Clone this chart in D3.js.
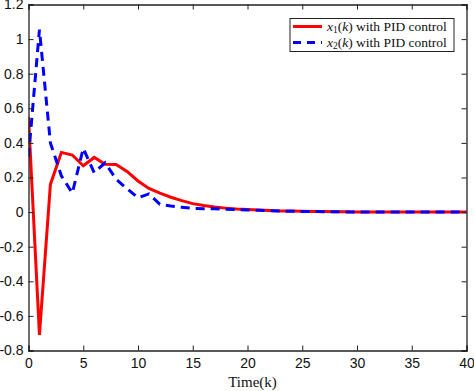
<!DOCTYPE html>
<html><head><meta charset="utf-8">
<script src="https://cdn.jsdelivr.net/npm/d3@7"></script>
<style>body{margin:0;background:#fff}svg{display:block}</style>
</head><body><svg id="c" width="474" height="391"></svg>
<script>
const steps = d3.range(0, 41);
const x1 = [0.55,-0.71,0.16,0.345,0.33,0.268,0.316,0.277,0.275,0.235,0.18,0.137,0.11,0.086,0.066,0.049,0.038,0.029,0.023,0.018,0.015,0.012,0.009,0.007,0.006,0.005,0.004,0.003,0.002,0.002,0.001,0.001,0.001,0,0,0,0,0,0,0,0];
const x2 = [0.32,1.055,0.40,0.21,0.11,0.368,0.228,0.285,0.19,0.135,0.083,0.105,0.045,0.035,0.028,0.022,0.02,0.02,0.017,0.014,0.012,0.01,0.008,0.006,0.005,0.004,0.003,0.002,0.002,0.001,0.001,0.001,0,0,0,0,0,0,0,0,0];
const xTicks = [0,5,10,15,20,25,30,35,40];
const yTicks = [-0.8,-0.6,-0.4,-0.2,0,0.2,0.4,0.6,0.8,1,1.2];
const series = [
  {name:"1", values:x1, color:"#ff0000", dash:null},
  {name:"2", values:x2, color:"#0000ff", dash:"9,6"}
];

const svg = d3.select("#c");
const L=28.5, R=466.5, T=4.5, B=350.5;
const x = d3.scaleLinear().domain([0,40]).range([L,R]);
const y = d3.scaleLinear().domain([-0.8,1.2]).range([B,T]);

const plot = svg.append("g");
plot.append("defs").append("clipPath").attr("id","clip").append("rect")
  .attr("x",L).attr("y",T).attr("width",R-L).attr("height",B-T);

const line = d3.line().x((d,i)=>x(steps[i])).y(d=>y(d));
series.forEach(s=>{
  plot.append("path").attr("d",line(s.values)).attr("fill","none")
    .attr("stroke",s.color).attr("stroke-width",3)
    .attr("stroke-dasharray",s.dash).attr("clip-path","url(#clip)");
});

const axisColor="#222";
const fmt = d=> (d===0?"0":String(d));
const gb = svg.append("g").attr("transform",`translate(0,${B})`)
  .call(d3.axisBottom(x).tickValues(xTicks).tickSize(-5).tickPadding(8).tickFormat(fmt));
const gt = svg.append("g").attr("transform",`translate(0,${T})`)
  .call(d3.axisTop(x).tickValues(xTicks).tickSize(-5).tickFormat(""));
const gl = svg.append("g").attr("transform",`translate(${L},0)`)
  .call(d3.axisLeft(y).tickValues(yTicks).tickSize(-5).tickPadding(5).tickFormat(fmt));
const gr = svg.append("g").attr("transform",`translate(${R},0)`)
  .call(d3.axisRight(y).tickValues(yTicks).tickSize(-5).tickFormat(""));
[gb,gt,gl,gr].forEach(g=>{
  g.select(".domain").attr("stroke",axisColor).attr("stroke-width",1.3);
  g.selectAll(".tick line").attr("stroke",axisColor).attr("stroke-width",1);
  g.selectAll("text").attr("fill","#111").style("font-family","'Liberation Sans',Arial,sans-serif").style("font-size","14px");
});
gb.selectAll(".tick text").attr("dy","0.71em");

svg.append("text").attr("x",(L+R)/2+5).attr("y",387).attr("text-anchor","middle")
  .style("font-family","'Liberation Serif','DejaVu Serif',serif").style("font-size","15px").attr("fill","#111")
  .text("Time(k)");

// legend
const lg = svg.append("g");
lg.append("rect").attr("x",290).attr("y",18.5).attr("width",164).attr("height",33)
  .attr("fill","#fff").attr("stroke","#222").attr("stroke-width",1);
series.forEach((s,i)=>{
  const yy = 26.5 + i*16;
  lg.append("line").attr("x1",293).attr("x2",322).attr("y1",yy).attr("y2",yy)
    .attr("stroke",s.color).attr("stroke-width",3).attr("stroke-dasharray",s.dash?"8,6":null);
  const t = lg.append("text").attr("x",327).attr("y",yy+4)
    .style("font-family","'Liberation Serif','DejaVu Serif',serif").style("font-size","13.5px").attr("fill","#111");
  t.append("tspan").style("font-style","italic").text("x");
  t.append("tspan").attr("dy",2.5).style("font-size","9.5px").text(s.name);
  t.append("tspan").attr("dy",-2.5).text("(");
  t.append("tspan").style("font-style","italic").text("k");
  t.append("tspan").text(") with PID control");
});
</script></body></html>
